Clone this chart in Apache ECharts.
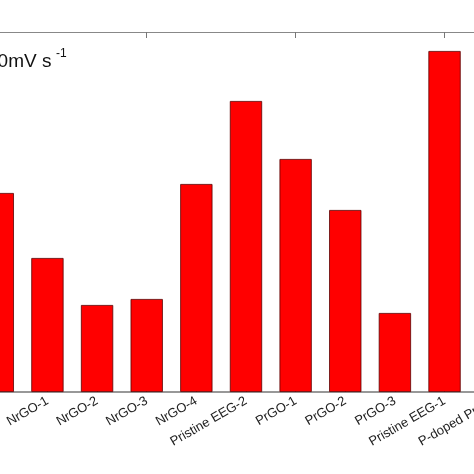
<!DOCTYPE html>
<html><head><meta charset="utf-8">
<script src="https://cdn.jsdelivr.net/npm/echarts@6/dist/echarts.min.js"></script>
<style>html,body{margin:0;padding:0;background:#fff;overflow:hidden}#c{width:556px;height:474px;margin-left:-37px}</style>
</head><body><div id="c"></div>
<script>
var categories = ["NrGO", "NrGO-1", "NrGO-2", "NrGO-3", "NrGO-4", "Pristine EEG-2", "PrGO-1", "PrGO-2", "PrGO-3", "Pristine EEG-1", "P-doped PrGO"];
var values = [199, 134, 87, 93, 208, 291, 233, 182, 79, 341, 300];

var chart = echarts.init(document.getElementById("c"));
chart.setOption({
  animation: false,
  grid: { left: 0, right: 0, top: 32, bottom: 82 },
  xAxis: [{
    type: "category", data: categories, position: "bottom",
    axisLine: { lineStyle: { color: "#777", width: 1.5 } },
    axisTick: { show: true, inside: true, alignWithLabel: true, length: 5, lineStyle: { color: "#555" } },
    axisLabel: { rotate: 30, interval: 0, fontFamily: "Liberation Sans", fontSize: 13, color: "#222", margin: 8 }
  }, {
    type: "category", data: categories, position: "top",
    axisLine: { show: true, lineStyle: { color: "#888" } },
    axisTick: { show: true, inside: true, alignWithLabel: true, length: 6, lineStyle: { color: "#777" } },
    axisLabel: { show: false }
  }],
  yAxis: { type: "value", min: 0, max: 360, show: false },
  series: [{
    type: "bar", data: values, barWidth: "65%",
    itemStyle: { color: "#ff0000", borderColor: "#5a0000", borderWidth: 0.8 }
  }],
  graphic: [
    { type: "text", left: 24, top: 52, style: { text: "50mV s", font: "19px Liberation Sans", fill: "#111" } },
    { type: "text", left: 93, top: 48, style: { text: "-1", font: "12px Liberation Sans", fill: "#111" } },
    { type: "text", left: 34, top: 6, style: { text: ":", font: "16px Liberation Sans", fill: "#333" } }
  ]
});
</script></body></html>
